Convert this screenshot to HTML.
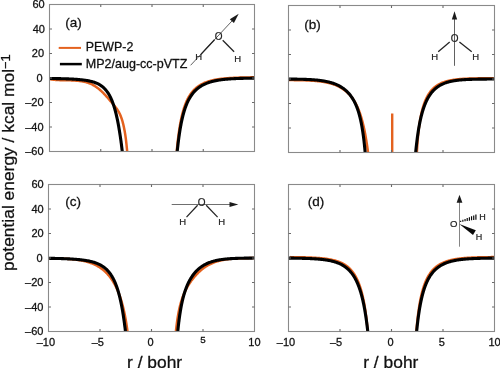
<!DOCTYPE html>
<html><head><meta charset="utf-8"><style>
html,body{margin:0;padding:0;background:#fff;}
svg{display:block;}
</style></head><body>
<svg width="500" height="368" viewBox="0 0 500 368" font-family="'Liberation Sans', Arial, Helvetica, sans-serif">
<style>.t{fill:#111;stroke:#111;stroke-width:0.28px}</style>
<rect width="500" height="368" fill="#fff"/>
<clipPath id="clipa"><rect x="49.5" y="4.5" width="205.0" height="147.0"/></clipPath>
<clipPath id="clipb"><rect x="288.5" y="5.5" width="206.0" height="147.0"/></clipPath>
<clipPath id="clipc"><rect x="48.5" y="184.5" width="206.0" height="147.0"/></clipPath>
<clipPath id="clipd"><rect x="288.5" y="184.5" width="206.0" height="147.0"/></clipPath>
<g clip-path="url(#clipa)" fill="none" stroke-linejoin="round">
<path d="M49.61 79.20 L50.17 79.30 L50.74 79.39 L51.32 79.47 L51.90 79.55 L52.48 79.62 L53.07 79.69 L53.66 79.75 L54.26 79.81 L54.86 79.86 L55.46 79.91 L56.07 79.95 L56.68 79.99 L57.29 80.02 L57.91 80.05 L58.53 80.08 L59.15 80.11 L59.78 80.13 L60.41 80.15 L61.04 80.17 L61.67 80.18 L62.31 80.20 L62.95 80.21 L63.59 80.22 L64.23 80.24 L64.87 80.25 L65.51 80.26 L66.15 80.27 L66.80 80.28 L67.45 80.29 L68.09 80.31 L68.74 80.32 L69.39 80.34 L70.03 80.35 L70.68 80.37 L71.33 80.40 L71.97 80.42 L72.62 80.45 L73.26 80.48 L73.91 80.51 L74.55 80.55 L75.19 80.59 L75.83 80.64 L76.47 80.69 L77.11 80.74 L77.75 80.80 L78.38 80.87 L79.01 80.94 L79.64 81.01 L80.27 81.10 L80.89 81.19 L81.51 81.28 L82.13 81.38 L82.74 81.49 L83.35 81.61 L83.96 81.74 L84.57 81.87 L85.17 82.01 L85.76 82.16 L86.36 82.32 L86.94 82.49 L87.53 82.67 L88.11 82.86 L88.68 83.05 L89.25 83.26 L89.81 83.48 L90.37 83.71 L90.93 83.95 L91.47 84.20 L92.02 84.46 L92.55 84.74 L93.08 85.02 L93.61 85.31 L94.13 85.62 L94.65 85.93 L95.16 86.26 L95.66 86.59 L96.16 86.93 L96.66 87.28 L97.15 87.64 L97.64 88.01 L98.12 88.38 L98.60 88.76 L99.08 89.15 L99.55 89.55 L100.02 89.95 L100.48 90.36 L100.94 90.78 L101.40 91.20 L101.85 91.62 L102.30 92.05 L102.74 92.49 L103.19 92.93 L103.63 93.38 L104.06 93.83 L104.50 94.28 L104.93 94.73 L105.35 95.19 L105.78 95.66 L106.20 96.12 L106.62 96.59 L107.04 97.06 L107.46 97.53 L107.87 98.00 L108.29 98.47 L108.70 98.95 L109.11 99.42 L109.51 99.90 L109.92 100.38 L110.32 100.85 L110.72 101.33 L111.12 101.81 L111.52 102.29 L111.92 102.77 L112.31 103.25 L112.71 103.73 L113.10 104.21 L113.49 104.70 L113.88 105.18 L114.27 105.66 L114.66 106.14 L115.04 106.62 L115.43 107.10 L115.80 107.59 L116.18 108.07 L116.55 108.56 L116.91 109.06 L117.26 109.56 L117.60 110.06 L117.93 110.57 L118.25 111.09 L118.56 111.61 L118.86 112.14 L119.15 112.68 L119.43 113.22 L119.70 113.77 L119.96 114.32 L120.21 114.88 L120.45 115.44 L120.69 116.00 L120.91 116.58 L121.13 117.15 L121.34 117.73 L121.54 118.31 L121.74 118.90 L121.93 119.49 L122.11 120.08 L122.29 120.68 L122.46 121.28 L122.63 121.88 L122.79 122.48 L122.94 123.08 L123.10 123.69 L123.24 124.30 L123.39 124.91 L123.53 125.52 L123.67 126.13 L123.80 126.74 L123.93 127.35 L124.06 127.96 L124.18 128.57 L124.30 129.19 L124.42 129.80 L124.54 130.42 L124.65 131.04 L124.76 131.65 L124.86 132.27 L124.97 132.89 L125.07 133.51 L125.17 134.12 L125.26 134.74 L125.36 135.36 L125.45 135.98 L125.54 136.60 L125.62 137.22 L125.71 137.84 L125.79 138.46 L125.87 139.08 L125.95 139.70 L126.03 140.32 L126.10 140.94 L126.17 141.56 L126.25 142.18 L126.32 142.80 L126.38 143.42 L126.45 144.04 L126.52 144.66 L126.58 145.28 L126.64 145.90 L126.70 146.52 L126.76 147.14 L126.82 147.76 L126.88 148.37 L126.94 148.99 L127.00 149.61 L127.05 150.22 L127.11 150.84 L127.16 151.45 L127.21 152.06 L127.27 152.68" stroke="#e4621f" stroke-width="2.5"/>
<path d="M254.80 77.32 L254.18 77.33 L253.57 77.33 L252.95 77.34 L252.34 77.35 L251.72 77.35 L251.11 77.36 L250.49 77.37 L249.88 77.38 L249.26 77.39 L248.65 77.40 L248.03 77.41 L247.42 77.42 L246.80 77.43 L246.19 77.44 L245.57 77.45 L244.96 77.46 L244.34 77.48 L243.73 77.49 L243.11 77.50 L242.50 77.52 L241.88 77.53 L241.27 77.55 L240.65 77.57 L240.04 77.59 L239.42 77.60 L238.80 77.62 L238.19 77.65 L237.57 77.67 L236.96 77.69 L236.34 77.71 L235.73 77.74 L235.11 77.76 L234.50 77.79 L233.88 77.82 L233.27 77.85 L232.65 77.88 L232.04 77.92 L231.42 77.95 L230.81 77.99 L230.19 78.02 L229.58 78.06 L228.96 78.10 L228.35 78.15 L227.73 78.19 L227.12 78.24 L226.50 78.29 L225.89 78.34 L225.27 78.40 L224.65 78.46 L224.04 78.52 L223.42 78.58 L222.81 78.64 L222.19 78.71 L221.58 78.78 L220.96 78.86 L220.35 78.94 L219.73 79.02 L219.12 79.11 L218.50 79.20 L217.89 79.29 L217.27 79.39 L216.66 79.49 L216.04 79.60 L215.43 79.71 L214.81 79.83 L214.20 79.95 L213.58 80.08 L212.97 80.22 L212.35 80.36 L211.77 80.50 L211.18 80.65 L210.60 80.80 L210.01 80.96 L209.43 81.13 L208.84 81.31 L208.26 81.49 L207.68 81.68 L207.09 81.88 L206.51 82.09 L205.92 82.31 L205.34 82.53 L204.75 82.77 L204.20 83.01 L203.65 83.25 L203.09 83.51 L202.54 83.78 L201.98 84.06 L201.43 84.35 L200.88 84.66 L200.35 84.96 L199.83 85.28 L199.31 85.61 L198.79 85.95 L198.26 86.31 L197.77 86.66 L197.28 87.03 L196.79 87.41 L196.29 87.82 L195.83 88.21 L195.37 88.62 L194.91 89.05 L194.45 89.50 L194.02 89.93 L193.59 90.38 L193.16 90.85 L192.76 91.31 L192.36 91.78 L191.96 92.27 L191.56 92.78 L191.19 93.26 L190.82 93.77 L190.45 94.30 L190.11 94.80 L189.77 95.32 L189.43 95.85 L189.10 96.41 L188.79 96.93 L188.48 97.48 L188.17 98.04 L187.87 98.62 L187.59 99.16 L187.31 99.72 L187.04 100.29 L186.76 100.89 L186.48 101.51 L186.24 102.07 L185.99 102.65 L185.74 103.25 L185.50 103.87 L185.25 104.51 L185.04 105.09 L184.82 105.68 L184.61 106.29 L184.39 106.92 L184.17 107.56 L183.96 108.23 L183.77 108.81 L183.59 109.42 L183.41 110.03 L183.22 110.67 L183.04 111.32 L182.85 111.98 L182.67 112.67 L182.51 113.26 L182.36 113.86 L182.21 114.47 L182.05 115.10 L181.90 115.74 L181.74 116.40 L181.59 117.08 L181.44 117.77 L181.28 118.48 L181.13 119.21 L181.01 119.80 L180.88 120.41 L180.76 121.03 L180.64 121.66 L180.51 122.31 L180.39 122.96 L180.27 123.64 L180.14 124.32 L180.02 125.03 L179.90 125.74 L179.78 126.48 L179.65 127.23 L179.53 127.99 L179.41 128.77 L179.31 129.37 L179.22 129.98 L179.13 130.60 L179.04 131.23 L178.95 131.87 L178.85 132.52 L178.76 133.19 L178.67 133.86 L178.58 134.55 L178.48 135.25 L178.39 135.96 L178.30 136.68 L178.21 137.42 L178.11 138.17 L178.02 138.94 L177.93 139.72 L177.84 140.51 L177.75 141.32 L177.65 142.15 L177.56 142.99 L177.47 143.84 L177.38 144.72 L177.28 145.61 L177.22 146.21 L177.16 146.82 L177.10 147.44 L177.04 148.07 L176.98 148.70 L176.92 149.34 L176.85 150.00 L176.79 150.66 L176.73 151.33 L176.67 152.00 L176.61 152.68 L176.58 153.02" stroke="#e4621f" stroke-width="2.5"/>
<path d="M49.50 78.48 L50.12 78.48 L50.73 78.49 L51.35 78.50 L51.96 78.51 L52.58 78.52 L53.19 78.53 L53.81 78.54 L54.42 78.55 L55.04 78.56 L55.65 78.57 L56.27 78.58 L56.88 78.59 L57.50 78.60 L58.11 78.62 L58.73 78.63 L59.34 78.64 L59.96 78.66 L60.57 78.67 L61.19 78.69 L61.80 78.70 L62.42 78.72 L63.03 78.73 L63.65 78.75 L64.26 78.77 L64.88 78.79 L65.50 78.81 L66.11 78.83 L66.73 78.85 L67.34 78.87 L67.96 78.90 L68.57 78.92 L69.19 78.95 L69.80 78.97 L70.42 79.00 L71.03 79.03 L71.65 79.06 L72.26 79.09 L72.88 79.13 L73.49 79.16 L74.11 79.20 L74.72 79.23 L75.34 79.27 L75.95 79.31 L76.57 79.36 L77.18 79.40 L77.80 79.45 L78.41 79.50 L79.03 79.55 L79.65 79.61 L80.26 79.67 L80.88 79.73 L81.49 79.79 L82.11 79.86 L82.72 79.93 L83.34 80.00 L83.95 80.08 L84.57 80.17 L85.18 80.25 L85.80 80.34 L86.41 80.44 L87.03 80.54 L87.64 80.65 L88.26 80.77 L88.87 80.89 L89.49 81.02 L90.10 81.15 L90.69 81.29 L91.27 81.43 L91.86 81.59 L92.44 81.75 L93.03 81.92 L93.61 82.10 L94.19 82.29 L94.78 82.49 L95.36 82.71 L95.95 82.93 L96.53 83.18 L97.09 83.42 L97.64 83.68 L98.19 83.95 L98.75 84.24 L99.30 84.54 L99.82 84.85 L100.35 85.18 L100.87 85.52 L101.39 85.88 L101.88 86.24 L102.38 86.63 L102.87 87.03 L103.33 87.43 L103.79 87.85 L104.25 88.29 L104.68 88.73 L105.11 89.19 L105.55 89.67 L105.95 90.14 L106.34 90.63 L106.71 91.10 L107.08 91.59 L107.45 92.11 L107.82 92.65 L108.16 93.17 L108.50 93.70 L108.84 94.26 L109.14 94.79 L109.45 95.34 L109.76 95.91 L110.07 96.50 L110.34 97.05 L110.62 97.62 L110.90 98.21 L111.17 98.82 L111.42 99.38 L111.67 99.96 L111.91 100.55 L112.16 101.16 L112.40 101.79 L112.62 102.36 L112.84 102.94 L113.05 103.54 L113.27 104.16 L113.48 104.79 L113.70 105.44 L113.91 106.10 L114.10 106.69 L114.28 107.29 L114.47 107.90 L114.65 108.53 L114.83 109.17 L115.02 109.82 L115.20 110.49 L115.39 111.18 L115.54 111.76 L115.70 112.36 L115.85 112.96 L116.00 113.58 L116.16 114.21 L116.31 114.85 L116.47 115.51 L116.62 116.17 L116.77 116.85 L116.93 117.54 L117.08 118.25 L117.23 118.97 L117.39 119.70 L117.51 120.29 L117.63 120.90 L117.76 121.51 L117.88 122.13 L118.00 122.77 L118.13 123.41 L118.25 124.06 L118.37 124.72 L118.50 125.39 L118.62 126.07 L118.74 126.76 L118.86 127.46 L118.99 128.18 L119.11 128.90 L119.23 129.63 L119.36 130.37 L119.48 131.13 L119.60 131.89 L119.73 132.67 L119.85 133.46 L119.94 134.06 L120.03 134.66 L120.13 135.27 L120.22 135.89 L120.31 136.51 L120.40 137.15 L120.49 137.78 L120.59 138.43 L120.68 139.08 L120.77 139.74 L120.86 140.40 L120.96 141.08 L121.05 141.76 L121.14 142.44 L121.23 143.14 L121.33 143.84 L121.42 144.55 L121.51 145.26 L121.60 145.98 L121.69 146.71 L121.79 147.45 L121.88 148.20 L121.97 148.95 L122.06 149.71 L122.16 150.48 L122.25 151.25 L122.34 152.04 L122.43 152.83 L122.46 153.09" stroke="#000" stroke-width="3.1"/>
<path d="M256.00 78.12 L255.38 78.13 L254.77 78.13 L254.15 78.14 L253.54 78.15 L252.92 78.15 L252.31 78.16 L251.69 78.17 L251.08 78.18 L250.46 78.19 L249.85 78.20 L249.23 78.21 L248.62 78.22 L248.00 78.23 L247.39 78.24 L246.77 78.25 L246.16 78.26 L245.54 78.28 L244.93 78.29 L244.31 78.30 L243.70 78.32 L243.08 78.33 L242.47 78.35 L241.85 78.37 L241.24 78.39 L240.62 78.40 L240.00 78.42 L239.39 78.45 L238.77 78.47 L238.16 78.49 L237.54 78.51 L236.93 78.54 L236.31 78.56 L235.70 78.59 L235.08 78.62 L234.47 78.65 L233.85 78.68 L233.24 78.72 L232.62 78.75 L232.01 78.79 L231.39 78.82 L230.78 78.86 L230.16 78.90 L229.55 78.95 L228.93 78.99 L228.32 79.04 L227.70 79.09 L227.09 79.14 L226.47 79.20 L225.85 79.26 L225.24 79.32 L224.62 79.38 L224.01 79.44 L223.39 79.51 L222.78 79.58 L222.16 79.66 L221.55 79.74 L220.93 79.82 L220.32 79.91 L219.70 80.00 L219.09 80.09 L218.47 80.19 L217.86 80.29 L217.24 80.40 L216.63 80.51 L216.01 80.63 L215.40 80.75 L214.78 80.88 L214.17 81.02 L213.55 81.16 L212.97 81.30 L212.38 81.45 L211.80 81.60 L211.21 81.76 L210.63 81.93 L210.04 82.11 L209.46 82.29 L208.88 82.48 L208.29 82.68 L207.71 82.89 L207.12 83.11 L206.54 83.33 L205.95 83.57 L205.40 83.81 L204.85 84.05 L204.29 84.31 L203.74 84.58 L203.18 84.86 L202.63 85.15 L202.08 85.46 L201.55 85.76 L201.03 86.08 L200.51 86.41 L199.99 86.75 L199.46 87.11 L198.97 87.46 L198.48 87.83 L197.98 88.21 L197.49 88.61 L197.02 89.00 L196.55 89.40 L196.09 89.83 L195.62 90.27 L195.19 90.69 L194.75 91.14 L194.31 91.60 L193.91 92.05 L193.50 92.52 L193.10 93.00 L192.69 93.50 L192.32 93.99 L191.95 94.49 L191.57 95.01 L191.23 95.50 L190.88 96.01 L190.54 96.54 L190.19 97.09 L189.88 97.61 L189.57 98.15 L189.25 98.70 L188.94 99.28 L188.66 99.81 L188.37 100.36 L188.09 100.93 L187.81 101.52 L187.52 102.13 L187.27 102.68 L187.02 103.26 L186.77 103.85 L186.51 104.46 L186.26 105.09 L186.04 105.66 L185.82 106.25 L185.60 106.85 L185.37 107.47 L185.15 108.11 L184.93 108.76 L184.74 109.34 L184.55 109.94 L184.36 110.55 L184.16 111.17 L183.97 111.81 L183.78 112.47 L183.59 113.15 L183.43 113.73 L183.27 114.32 L183.11 114.93 L182.95 115.55 L182.79 116.19 L182.63 116.84 L182.46 117.51 L182.30 118.19 L182.14 118.89 L181.98 119.61 L181.85 120.20 L181.72 120.79 L181.59 121.41 L181.46 122.03 L181.33 122.67 L181.20 123.32 L181.07 123.98 L180.94 124.66 L180.81 125.36 L180.68 126.06 L180.55 126.79 L180.42 127.53 L180.28 128.28 L180.15 129.06 L180.02 129.85 L179.92 130.45 L179.82 131.07 L179.72 131.69 L179.63 132.33 L179.53 132.98 L179.43 133.63 L179.33 134.31 L179.23 134.99 L179.13 135.68 L179.03 136.39 L178.93 137.11 L178.83 137.84 L178.73 138.59 L178.63 139.35 L178.52 140.13 L178.42 140.91 L178.32 141.72 L178.22 142.54 L178.12 143.37 L178.02 144.22 L177.92 145.09 L177.81 145.98 L177.75 146.58 L177.68 147.18 L177.61 147.80 L177.54 148.42 L177.47 149.05 L177.40 149.69 L177.34 150.34 L177.27 151.00 L177.20 151.66 L177.14 152.34 L177.08 153.02 L177.08 153.02" stroke="#000" stroke-width="3.1"/>
</g>
<g clip-path="url(#clipb)" fill="none" stroke-linejoin="round">
<path d="M287.90 80.07 L288.52 80.07 L289.14 80.08 L289.75 80.08 L290.37 80.09 L290.99 80.09 L291.61 80.10 L292.23 80.11 L292.85 80.11 L293.46 80.12 L294.08 80.13 L294.70 80.14 L295.32 80.14 L295.94 80.15 L296.55 80.16 L297.17 80.17 L297.79 80.18 L298.41 80.19 L299.03 80.21 L299.65 80.22 L300.26 80.23 L300.88 80.25 L301.50 80.26 L302.12 80.28 L302.74 80.29 L303.36 80.31 L303.97 80.33 L304.59 80.35 L305.21 80.37 L305.83 80.39 L306.45 80.42 L307.06 80.44 L307.68 80.47 L308.30 80.49 L308.92 80.52 L309.54 80.55 L310.16 80.59 L310.77 80.62 L311.39 80.66 L312.01 80.70 L312.63 80.74 L313.25 80.78 L313.86 80.82 L314.48 80.87 L315.10 80.92 L315.72 80.97 L316.34 81.03 L316.96 81.08 L317.57 81.14 L318.19 81.21 L318.81 81.27 L319.43 81.35 L320.05 81.42 L320.66 81.50 L321.28 81.58 L321.90 81.67 L322.52 81.76 L323.14 81.85 L323.76 81.95 L324.37 82.06 L324.99 82.17 L325.61 82.28 L326.23 82.40 L326.85 82.53 L327.43 82.66 L328.02 82.79 L328.61 82.93 L329.20 83.07 L329.78 83.22 L330.37 83.38 L330.96 83.54 L331.55 83.72 L332.13 83.90 L332.72 84.08 L333.31 84.28 L333.89 84.48 L334.48 84.70 L335.07 84.92 L335.66 85.15 L336.21 85.39 L336.77 85.63 L337.33 85.87 L337.88 86.14 L338.44 86.41 L338.99 86.69 L339.55 86.98 L340.11 87.29 L340.63 87.59 L341.16 87.90 L341.68 88.23 L342.21 88.56 L342.73 88.92 L343.23 89.26 L343.72 89.62 L344.23 89.98 L344.73 90.36 L345.21 90.73 L345.69 91.11 L346.17 91.51 L346.65 91.92 L347.13 92.34 L347.58 92.75 L348.03 93.18 L348.48 93.62 L348.93 94.08 L349.34 94.52 L349.76 94.98 L350.18 95.45 L350.60 95.94 L350.99 96.41 L351.38 96.89 L351.77 97.39 L352.16 97.91 L352.52 98.40 L352.88 98.91 L353.24 99.43 L353.60 99.97 L353.93 100.48 L354.26 101.01 L354.59 101.55 L354.92 102.11 L355.25 102.69 L355.55 103.23 L355.85 103.78 L356.15 104.35 L356.45 104.94 L356.72 105.48 L356.99 106.04 L357.26 106.61 L357.53 107.20 L357.80 107.81 L358.07 108.44 L358.31 109.01 L358.55 109.59 L358.78 110.19 L359.02 110.80 L359.27 111.44 L359.51 112.09 L359.71 112.66 L359.92 113.25 L360.13 113.86 L360.34 114.48 L360.55 115.12 L360.76 115.77 L360.97 116.45 L361.15 117.02 L361.33 117.61 L361.50 118.22 L361.68 118.83 L361.86 119.47 L362.04 120.12 L362.22 120.78 L362.40 121.46 L362.58 122.16 L362.76 122.88 L362.91 123.47 L363.06 124.07 L363.20 124.68 L363.35 125.30 L363.50 125.94 L363.65 126.60 L363.80 127.26 L363.95 127.95 L364.10 128.64 L364.25 129.36 L364.40 130.09 L364.55 130.83 L364.70 131.60 L364.86 132.38 L364.97 132.98 L365.09 133.59 L365.21 134.21 L365.32 134.84 L365.44 135.48 L365.56 136.14 L365.68 136.80 L365.80 137.48 L365.91 138.17 L366.03 138.88 L366.15 139.60 L366.28 140.33 L366.40 141.08 L366.52 141.84 L366.64 142.62 L366.76 143.41 L366.89 144.21 L367.01 145.04 L367.14 145.88 L367.26 146.74 L367.39 147.61 L367.52 148.50 L367.60 149.11 L367.69 149.72 L367.77 150.35 L367.86 150.98 L367.94 151.62 L368.03 152.27 L368.10 152.94 L368.16 153.61 L368.22 154.30 L368.22 154.30" stroke="#e4621f" stroke-width="2.5"/>
<path d="M493.70 78.23 L493.08 78.23 L492.46 78.24 L491.85 78.24 L491.23 78.24 L490.61 78.24 L489.99 78.25 L489.37 78.25 L488.75 78.25 L488.14 78.26 L487.52 78.26 L486.90 78.26 L486.28 78.27 L485.66 78.27 L485.05 78.28 L484.43 78.28 L483.81 78.29 L483.19 78.29 L482.57 78.30 L481.95 78.30 L481.34 78.31 L480.72 78.32 L480.10 78.33 L479.48 78.33 L478.86 78.34 L478.24 78.35 L477.63 78.36 L477.01 78.37 L476.39 78.38 L475.77 78.39 L475.15 78.40 L474.54 78.42 L473.92 78.43 L473.30 78.44 L472.68 78.46 L472.06 78.48 L471.44 78.49 L470.83 78.51 L470.21 78.53 L469.59 78.55 L468.97 78.57 L468.35 78.60 L467.74 78.62 L467.12 78.65 L466.50 78.67 L465.88 78.70 L465.26 78.73 L464.64 78.76 L464.03 78.80 L463.41 78.84 L462.79 78.87 L462.17 78.92 L461.55 78.96 L460.94 79.00 L460.32 79.05 L459.70 79.10 L459.08 79.16 L458.46 79.22 L457.84 79.28 L457.23 79.34 L456.61 79.41 L455.99 79.48 L455.37 79.56 L454.75 79.64 L454.13 79.73 L453.52 79.82 L452.90 79.91 L452.28 80.01 L451.66 80.12 L451.04 80.23 L450.43 80.35 L449.81 80.48 L449.22 80.60 L448.63 80.74 L448.05 80.88 L447.46 81.03 L446.87 81.18 L446.28 81.35 L445.70 81.52 L445.11 81.70 L444.52 81.89 L443.93 82.10 L443.35 82.31 L442.76 82.53 L442.17 82.77 L441.62 83.01 L441.06 83.25 L440.50 83.51 L439.95 83.79 L439.39 84.07 L438.83 84.38 L438.31 84.67 L437.78 84.99 L437.26 85.32 L436.73 85.66 L436.21 86.02 L435.71 86.38 L435.22 86.75 L434.72 87.14 L434.23 87.54 L433.76 87.94 L433.32 88.36 L432.87 88.80 L432.43 89.26 L432.01 89.71 L431.60 90.17 L431.19 90.65 L430.80 91.12 L430.42 91.61 L430.04 92.11 L429.66 92.64 L429.31 93.14 L428.96 93.67 L428.62 94.21 L428.30 94.72 L427.98 95.26 L427.66 95.81 L427.35 96.38 L427.06 96.92 L426.77 97.47 L426.49 98.05 L426.20 98.64 L425.95 99.19 L425.70 99.76 L425.44 100.35 L425.19 100.95 L424.94 101.57 L424.71 102.15 L424.49 102.73 L424.27 103.34 L424.05 103.96 L423.83 104.60 L423.63 105.18 L423.44 105.77 L423.25 106.38 L423.06 107.00 L422.87 107.64 L422.68 108.30 L422.52 108.88 L422.36 109.47 L422.20 110.08 L422.04 110.70 L421.88 111.34 L421.73 111.99 L421.57 112.66 L421.41 113.35 L421.25 114.05 L421.13 114.65 L421.00 115.27 L420.87 115.89 L420.74 116.53 L420.61 117.19 L420.49 117.86 L420.36 118.54 L420.24 119.25 L420.11 119.96 L419.99 120.70 L419.89 121.30 L419.79 121.91 L419.69 122.53 L419.60 123.17 L419.50 123.81 L419.40 124.47 L419.31 125.15 L419.21 125.83 L419.12 126.53 L419.03 127.25 L418.93 127.97 L418.84 128.72 L418.75 129.48 L418.66 130.25 L418.57 131.04 L418.50 131.65 L418.43 132.26 L418.36 132.89 L418.30 133.52 L418.23 134.16 L418.17 134.82 L418.10 135.49 L418.04 136.16 L417.97 136.85 L417.91 137.55 L417.85 138.26 L417.79 138.99 L417.72 139.72 L417.66 140.47 L417.60 141.23 L417.54 142.01 L417.48 142.80 L417.42 143.60 L417.36 144.42 L417.31 145.25 L417.25 146.10 L417.19 146.96 L417.14 147.84 L417.08 148.74 L417.04 149.35 L417.01 149.96 L416.97 150.58 L416.94 151.21 L416.90 151.85 L416.87 152.49 L416.81 153.14 L416.74 153.79 L416.71 154.12" stroke="#e4621f" stroke-width="2.5"/>
<line x1="392.2" y1="113.5" x2="392.2" y2="153" stroke="#e4621f" stroke-width="2.4"/>
<path d="M287.70 79.07 L288.32 79.07 L288.94 79.08 L289.55 79.08 L290.17 79.09 L290.79 79.09 L291.41 79.10 L292.03 79.11 L292.65 79.11 L293.26 79.12 L293.88 79.13 L294.50 79.14 L295.12 79.14 L295.74 79.15 L296.35 79.16 L296.97 79.17 L297.59 79.18 L298.21 79.19 L298.83 79.21 L299.45 79.22 L300.06 79.23 L300.68 79.25 L301.30 79.26 L301.92 79.28 L302.54 79.29 L303.16 79.31 L303.77 79.33 L304.39 79.35 L305.01 79.37 L305.63 79.39 L306.25 79.42 L306.86 79.44 L307.48 79.47 L308.10 79.49 L308.72 79.52 L309.34 79.55 L309.96 79.59 L310.57 79.62 L311.19 79.66 L311.81 79.70 L312.43 79.74 L313.05 79.78 L313.66 79.82 L314.28 79.87 L314.90 79.92 L315.52 79.97 L316.14 80.03 L316.76 80.08 L317.37 80.14 L317.99 80.21 L318.61 80.27 L319.23 80.35 L319.85 80.42 L320.46 80.50 L321.08 80.58 L321.70 80.67 L322.32 80.76 L322.94 80.85 L323.56 80.95 L324.17 81.06 L324.79 81.17 L325.41 81.28 L326.03 81.40 L326.65 81.53 L327.23 81.66 L327.82 81.79 L328.41 81.93 L329.00 82.07 L329.58 82.22 L330.17 82.38 L330.76 82.54 L331.35 82.72 L331.93 82.90 L332.52 83.08 L333.11 83.28 L333.69 83.48 L334.28 83.70 L334.87 83.92 L335.46 84.15 L336.01 84.39 L336.57 84.63 L337.13 84.87 L337.68 85.14 L338.24 85.41 L338.79 85.69 L339.35 85.98 L339.91 86.29 L340.43 86.59 L340.96 86.90 L341.48 87.23 L342.01 87.56 L342.53 87.92 L343.03 88.26 L343.52 88.62 L344.02 88.99 L344.51 89.37 L345.00 89.77 L345.46 90.16 L345.93 90.56 L346.39 90.98 L346.85 91.41 L347.28 91.83 L347.71 92.27 L348.14 92.72 L348.57 93.18 L348.97 93.63 L349.37 94.10 L349.77 94.58 L350.17 95.08 L350.54 95.55 L350.91 96.05 L351.28 96.56 L351.65 97.08 L351.98 97.58 L352.32 98.10 L352.66 98.63 L353.00 99.19 L353.30 99.70 L353.61 100.24 L353.92 100.79 L354.22 101.36 L354.53 101.95 L354.80 102.50 L355.08 103.07 L355.35 103.65 L355.63 104.25 L355.87 104.80 L356.12 105.37 L356.36 105.96 L356.61 106.56 L356.85 107.18 L357.10 107.82 L357.31 108.40 L357.52 108.99 L357.74 109.60 L357.95 110.23 L358.16 110.87 L358.38 111.54 L358.56 112.13 L358.74 112.73 L358.93 113.35 L359.11 113.98 L359.29 114.63 L359.47 115.30 L359.65 115.99 L359.81 116.57 L359.96 117.18 L360.11 117.79 L360.26 118.42 L360.41 119.07 L360.56 119.73 L360.72 120.41 L360.87 121.11 L361.02 121.82 L361.17 122.55 L361.29 123.15 L361.41 123.77 L361.53 124.39 L361.65 125.03 L361.77 125.68 L361.89 126.35 L362.01 127.03 L362.13 127.73 L362.25 128.44 L362.37 129.17 L362.49 129.92 L362.61 130.68 L362.73 131.46 L362.82 132.06 L362.91 132.67 L363.00 133.28 L363.09 133.91 L363.18 134.56 L363.27 135.21 L363.36 135.87 L363.45 136.55 L363.54 137.24 L363.63 137.95 L363.72 138.66 L363.81 139.39 L363.90 140.14 L363.99 140.90 L364.08 141.67 L364.17 142.46 L364.26 143.26 L364.34 144.08 L364.43 144.92 L364.52 145.77 L364.61 146.64 L364.70 147.53 L364.76 148.14 L364.82 148.75 L364.88 149.37 L364.93 150.00 L364.99 150.63 L365.05 151.28 L365.11 151.93 L365.17 152.60 L365.23 153.27 L365.29 153.96 L365.32 154.30" stroke="#000" stroke-width="3.1"/>
<path d="M495.20 79.03 L494.58 79.03 L493.96 79.04 L493.35 79.04 L492.73 79.04 L492.11 79.04 L491.49 79.05 L490.87 79.05 L490.25 79.05 L489.64 79.06 L489.02 79.06 L488.40 79.06 L487.78 79.07 L487.16 79.07 L486.55 79.08 L485.93 79.08 L485.31 79.09 L484.69 79.09 L484.07 79.10 L483.45 79.10 L482.84 79.11 L482.22 79.12 L481.60 79.13 L480.98 79.13 L480.36 79.14 L479.74 79.15 L479.13 79.16 L478.51 79.17 L477.89 79.18 L477.27 79.19 L476.65 79.20 L476.04 79.22 L475.42 79.23 L474.80 79.24 L474.18 79.26 L473.56 79.28 L472.94 79.29 L472.33 79.31 L471.71 79.33 L471.09 79.35 L470.47 79.37 L469.85 79.40 L469.24 79.42 L468.62 79.45 L468.00 79.47 L467.38 79.50 L466.76 79.53 L466.14 79.56 L465.53 79.60 L464.91 79.64 L464.29 79.67 L463.67 79.72 L463.05 79.76 L462.44 79.80 L461.82 79.85 L461.20 79.90 L460.58 79.96 L459.96 80.02 L459.34 80.08 L458.73 80.14 L458.11 80.21 L457.49 80.28 L456.87 80.36 L456.25 80.44 L455.63 80.53 L455.02 80.62 L454.40 80.71 L453.78 80.81 L453.16 80.92 L452.54 81.03 L451.93 81.15 L451.31 81.28 L450.72 81.40 L450.13 81.54 L449.55 81.68 L448.96 81.83 L448.37 81.98 L447.78 82.15 L447.20 82.32 L446.61 82.50 L446.02 82.69 L445.43 82.90 L444.85 83.11 L444.26 83.33 L443.67 83.57 L443.12 83.81 L442.56 84.05 L442.00 84.31 L441.45 84.59 L440.89 84.87 L440.33 85.18 L439.81 85.47 L439.28 85.79 L438.76 86.12 L438.23 86.46 L437.71 86.82 L437.21 87.18 L436.72 87.55 L436.22 87.94 L435.73 88.34 L435.26 88.74 L434.80 89.16 L434.34 89.59 L433.90 90.01 L433.47 90.45 L433.04 90.91 L432.61 91.39 L432.20 91.85 L431.80 92.33 L431.40 92.82 L431.03 93.30 L430.66 93.79 L430.29 94.31 L429.92 94.84 L429.58 95.35 L429.24 95.87 L428.90 96.41 L428.56 96.97 L428.25 97.50 L427.94 98.05 L427.63 98.61 L427.32 99.19 L427.04 99.73 L426.76 100.29 L426.49 100.86 L426.21 101.46 L425.93 102.07 L425.68 102.63 L425.44 103.20 L425.19 103.80 L424.94 104.41 L424.69 105.04 L424.48 105.60 L424.26 106.18 L424.04 106.78 L423.83 107.39 L423.61 108.02 L423.40 108.66 L423.18 109.32 L422.99 109.91 L422.81 110.50 L422.62 111.12 L422.44 111.74 L422.25 112.38 L422.07 113.04 L421.88 113.72 L421.70 114.41 L421.54 115.00 L421.39 115.60 L421.23 116.22 L421.08 116.85 L420.92 117.50 L420.77 118.16 L420.61 118.83 L420.46 119.52 L420.30 120.22 L420.15 120.95 L420.03 121.53 L419.90 122.14 L419.78 122.75 L419.66 123.37 L419.53 124.01 L419.41 124.66 L419.28 125.32 L419.16 125.99 L419.04 126.68 L418.91 127.38 L418.79 128.10 L418.67 128.83 L418.54 129.57 L418.42 130.33 L418.30 131.11 L418.20 131.71 L418.11 132.31 L418.02 132.92 L417.92 133.55 L417.83 134.18 L417.74 134.82 L417.65 135.48 L417.55 136.14 L417.46 136.82 L417.37 137.50 L417.28 138.20 L417.18 138.91 L417.09 139.64 L417.00 140.37 L416.90 141.12 L416.81 141.88 L416.72 142.66 L416.63 143.45 L416.53 144.25 L416.44 145.07 L416.35 145.90 L416.26 146.75 L416.16 147.61 L416.07 148.49 L415.98 149.38 L415.92 149.99 L415.85 150.60 L415.79 151.23 L415.73 151.86 L415.67 152.49 L415.61 153.14 L415.54 153.79 L415.51 154.12" stroke="#000" stroke-width="3.1"/>
</g>
<g clip-path="url(#clipc)" fill="none" stroke-linejoin="round">
<path d="M48.50 258.20 L49.12 258.21 L49.74 258.22 L50.35 258.23 L50.97 258.25 L51.59 258.26 L52.21 258.27 L52.83 258.28 L53.45 258.30 L54.06 258.31 L54.68 258.33 L55.30 258.35 L55.92 258.36 L56.54 258.38 L57.15 258.40 L57.77 258.42 L58.39 258.44 L59.01 258.46 L59.63 258.48 L60.25 258.51 L60.86 258.53 L61.48 258.56 L62.10 258.59 L62.72 258.61 L63.34 258.64 L63.96 258.68 L64.57 258.71 L65.19 258.74 L65.81 258.78 L66.43 258.82 L67.05 258.86 L67.66 258.90 L68.28 258.94 L68.90 258.99 L69.52 259.03 L70.14 259.08 L70.76 259.14 L71.37 259.19 L71.99 259.25 L72.61 259.31 L73.23 259.37 L73.85 259.44 L74.46 259.51 L75.08 259.58 L75.70 259.65 L76.32 259.73 L76.94 259.81 L77.56 259.90 L78.17 259.99 L78.79 260.08 L79.41 260.18 L80.03 260.28 L80.65 260.39 L81.26 260.50 L81.88 260.62 L82.50 260.74 L83.12 260.87 L83.71 260.99 L84.29 261.13 L84.88 261.26 L85.47 261.41 L86.06 261.55 L86.64 261.71 L87.23 261.87 L87.82 262.04 L88.41 262.21 L88.99 262.40 L89.58 262.59 L90.17 262.78 L90.75 262.99 L91.34 263.20 L91.93 263.43 L92.52 263.66 L93.07 263.89 L93.63 264.13 L94.19 264.37 L94.74 264.63 L95.30 264.89 L95.85 265.17 L96.41 265.45 L96.97 265.75 L97.49 266.04 L98.02 266.34 L98.54 266.65 L99.07 266.98 L99.59 267.31 L100.12 267.66 L100.65 268.02 L101.14 268.36 L101.63 268.73 L102.13 269.10 L102.62 269.48 L103.12 269.88 L103.58 270.27 L104.05 270.66 L104.51 271.07 L104.97 271.50 L105.44 271.93 L105.87 272.35 L106.30 272.78 L106.74 273.23 L107.17 273.68 L107.60 274.15 L108.00 274.60 L108.40 275.07 L108.81 275.54 L109.21 276.03 L109.61 276.54 L109.98 277.01 L110.35 277.50 L110.72 278.00 L111.09 278.52 L111.46 279.05 L111.80 279.55 L112.14 280.06 L112.48 280.58 L112.82 281.12 L113.16 281.67 L113.50 282.23 L113.81 282.76 L114.12 283.30 L114.43 283.85 L114.74 284.41 L115.05 284.99 L115.33 285.53 L115.61 286.07 L115.88 286.63 L116.16 287.20 L116.44 287.78 L116.72 288.38 L117.00 288.99 L117.24 289.54 L117.49 290.11 L117.74 290.69 L117.99 291.28 L118.23 291.89 L118.48 292.50 L118.73 293.14 L118.94 293.70 L119.16 294.28 L119.38 294.87 L119.59 295.47 L119.81 296.08 L120.03 296.71 L120.24 297.35 L120.46 298.00 L120.64 298.57 L120.83 299.15 L121.02 299.74 L121.20 300.35 L121.39 300.97 L121.57 301.59 L121.76 302.23 L121.94 302.89 L122.13 303.56 L122.31 304.24 L122.50 304.93 L122.65 305.52 L122.81 306.12 L122.96 306.73 L123.12 307.36 L123.27 307.99 L123.43 308.64 L123.58 309.30 L123.74 309.97 L123.89 310.65 L124.04 311.35 L124.20 312.06 L124.35 312.78 L124.48 313.37 L124.60 313.97 L124.72 314.58 L124.85 315.20 L124.97 315.83 L125.10 316.47 L125.22 317.12 L125.34 317.78 L125.47 318.45 L125.59 319.13 L125.71 319.83 L125.84 320.54 L125.96 321.26 L126.08 321.99 L126.21 322.74 L126.33 323.50 L126.46 324.28 L126.58 325.07 L126.67 325.67 L126.76 326.28 L126.86 326.90 L126.95 327.53 L127.04 328.17 L127.14 328.81 L127.23 329.47 L127.32 330.13 L127.41 330.81 L127.51 331.50 L127.60 332.19 L127.69 332.90 L127.72 333.14" stroke="#e4621f" stroke-width="2.5"/>
<path d="M255.30 258.06 L254.68 258.06 L254.06 258.07 L253.45 258.07 L252.83 258.08 L252.21 258.08 L251.59 258.09 L250.97 258.10 L250.35 258.10 L249.74 258.11 L249.12 258.12 L248.50 258.13 L247.88 258.14 L247.26 258.15 L246.65 258.16 L246.03 258.17 L245.41 258.18 L244.79 258.20 L244.17 258.21 L243.55 258.23 L242.94 258.24 L242.32 258.26 L241.70 258.28 L241.08 258.30 L240.46 258.32 L239.84 258.34 L239.23 258.37 L238.61 258.39 L237.99 258.42 L237.37 258.45 L236.75 258.48 L236.14 258.51 L235.52 258.55 L234.90 258.59 L234.28 258.63 L233.66 258.67 L233.04 258.71 L232.43 258.76 L231.81 258.81 L231.19 258.87 L230.57 258.92 L229.95 258.98 L229.34 259.05 L228.72 259.12 L228.10 259.19 L227.48 259.27 L226.86 259.35 L226.24 259.43 L225.63 259.52 L225.01 259.62 L224.39 259.72 L223.77 259.82 L223.15 259.94 L222.54 260.05 L221.92 260.18 L221.33 260.30 L220.74 260.43 L220.15 260.57 L219.57 260.71 L218.98 260.86 L218.39 261.02 L217.81 261.18 L217.22 261.36 L216.63 261.54 L216.04 261.73 L215.46 261.92 L214.87 262.13 L214.28 262.34 L213.69 262.57 L213.11 262.80 L212.55 263.03 L211.99 263.27 L211.44 263.52 L210.88 263.78 L210.33 264.05 L209.77 264.32 L209.21 264.61 L208.66 264.91 L208.13 265.20 L207.61 265.50 L207.08 265.81 L206.55 266.14 L206.03 266.47 L205.50 266.81 L204.98 267.16 L204.48 267.50 L203.99 267.85 L203.50 268.21 L203.01 268.58 L202.51 268.96 L202.02 269.36 L201.53 269.76 L201.07 270.14 L200.61 270.54 L200.15 270.94 L199.69 271.35 L199.23 271.78 L198.77 272.21 L198.31 272.65 L197.88 273.07 L197.45 273.51 L197.02 273.95 L196.59 274.40 L196.16 274.86 L195.73 275.32 L195.30 275.80 L194.91 276.25 L194.51 276.72 L194.11 277.19 L193.71 277.67 L193.31 278.16 L192.92 278.66 L192.52 279.17 L192.15 279.65 L191.78 280.14 L191.42 280.63 L191.05 281.14 L190.68 281.66 L190.32 282.19 L189.95 282.73 L189.61 283.24 L189.28 283.75 L188.94 284.28 L188.61 284.82 L188.27 285.37 L187.93 285.93 L187.63 286.45 L187.32 286.98 L187.02 287.53 L186.71 288.09 L186.41 288.66 L186.11 289.24 L185.83 289.78 L185.56 290.33 L185.28 290.90 L185.01 291.48 L184.74 292.07 L184.46 292.68 L184.22 293.24 L183.98 293.80 L183.73 294.39 L183.49 294.99 L183.25 295.60 L183.01 296.23 L182.80 296.80 L182.58 297.38 L182.37 297.98 L182.16 298.59 L181.95 299.22 L181.74 299.86 L181.53 300.53 L181.35 301.11 L181.17 301.71 L180.98 302.32 L180.80 302.95 L180.62 303.60 L180.44 304.27 L180.26 304.95 L180.11 305.54 L179.96 306.14 L179.81 306.75 L179.66 307.38 L179.51 308.03 L179.37 308.69 L179.22 309.37 L179.07 310.07 L178.92 310.78 L178.77 311.52 L178.65 312.12 L178.53 312.74 L178.41 313.37 L178.29 314.02 L178.18 314.68 L178.06 315.35 L177.94 316.05 L177.82 316.76 L177.70 317.48 L177.59 318.23 L177.47 318.99 L177.35 319.78 L177.26 320.38 L177.17 320.99 L177.09 321.62 L177.00 322.26 L176.91 322.91 L176.82 323.57 L176.74 324.25 L176.65 324.94 L176.56 325.65 L176.47 326.37 L176.39 327.10 L176.30 327.85 L176.21 328.62 L176.13 329.41 L176.04 330.21 L175.95 331.03 L175.87 331.87 L175.77 332.73 L175.74 333.02" stroke="#e4621f" stroke-width="2.5"/>
<path d="M48.50 258.30 L49.12 258.31 L49.74 258.32 L50.35 258.33 L50.97 258.34 L51.59 258.35 L52.21 258.37 L52.83 258.38 L53.45 258.39 L54.06 258.40 L54.68 258.41 L55.30 258.43 L55.92 258.44 L56.54 258.46 L57.15 258.47 L57.77 258.49 L58.39 258.50 L59.01 258.52 L59.63 258.54 L60.25 258.55 L60.86 258.57 L61.48 258.59 L62.10 258.61 L62.72 258.63 L63.34 258.65 L63.96 258.68 L64.57 258.70 L65.19 258.72 L65.81 258.75 L66.43 258.77 L67.05 258.80 L67.66 258.83 L68.28 258.86 L68.90 258.89 L69.52 258.92 L70.14 258.95 L70.76 258.99 L71.37 259.02 L71.99 259.06 L72.61 259.10 L73.23 259.14 L73.85 259.18 L74.46 259.22 L75.08 259.27 L75.70 259.32 L76.32 259.37 L76.94 259.42 L77.56 259.47 L78.17 259.53 L78.79 259.59 L79.41 259.65 L80.03 259.72 L80.65 259.78 L81.26 259.85 L81.88 259.93 L82.50 260.00 L83.12 260.09 L83.74 260.17 L84.36 260.26 L84.97 260.35 L85.59 260.45 L86.21 260.55 L86.83 260.66 L87.45 260.77 L88.07 260.88 L88.68 261.01 L89.30 261.13 L89.89 261.26 L90.48 261.40 L91.06 261.54 L91.65 261.69 L92.24 261.84 L92.83 262.00 L93.41 262.17 L94.00 262.35 L94.59 262.54 L95.17 262.73 L95.76 262.94 L96.35 263.16 L96.94 263.39 L97.49 263.61 L98.05 263.85 L98.61 264.10 L99.16 264.36 L99.72 264.64 L100.27 264.93 L100.83 265.23 L101.36 265.54 L101.88 265.85 L102.41 266.19 L102.93 266.53 L103.43 266.88 L103.92 267.24 L104.42 267.62 L104.91 268.01 L105.37 268.40 L105.84 268.81 L106.30 269.23 L106.77 269.68 L107.20 270.11 L107.63 270.56 L108.06 271.03 L108.47 271.49 L108.87 271.97 L109.27 272.46 L109.64 272.94 L110.01 273.43 L110.38 273.95 L110.75 274.48 L111.09 274.99 L111.43 275.52 L111.77 276.06 L112.11 276.63 L112.42 277.16 L112.73 277.71 L113.04 278.28 L113.35 278.87 L113.63 279.42 L113.91 279.98 L114.18 280.56 L114.46 281.16 L114.71 281.71 L114.96 282.28 L115.20 282.86 L115.45 283.45 L115.70 284.07 L115.95 284.70 L116.16 285.27 L116.38 285.85 L116.60 286.44 L116.81 287.05 L117.03 287.68 L117.24 288.33 L117.46 288.98 L117.65 289.56 L117.83 290.16 L118.02 290.76 L118.20 291.38 L118.39 292.01 L118.57 292.66 L118.76 293.32 L118.94 294.00 L119.13 294.69 L119.28 295.28 L119.44 295.88 L119.59 296.49 L119.75 297.11 L119.90 297.74 L120.06 298.39 L120.21 299.05 L120.37 299.72 L120.52 300.41 L120.68 301.11 L120.83 301.82 L120.98 302.55 L121.11 303.14 L121.23 303.74 L121.36 304.35 L121.48 304.97 L121.60 305.60 L121.73 306.24 L121.85 306.89 L121.97 307.56 L122.10 308.23 L122.22 308.91 L122.34 309.60 L122.47 310.31 L122.59 311.03 L122.72 311.76 L122.84 312.50 L122.96 313.25 L123.09 314.01 L123.21 314.79 L123.33 315.58 L123.43 316.18 L123.52 316.79 L123.61 317.41 L123.70 318.04 L123.80 318.67 L123.89 319.31 L123.98 319.96 L124.08 320.61 L124.17 321.28 L124.26 321.95 L124.35 322.64 L124.45 323.33 L124.54 324.03 L124.63 324.74 L124.72 325.45 L124.82 326.18 L124.91 326.92 L125.00 327.66 L125.10 328.42 L125.19 329.19 L125.28 329.96 L125.37 330.75 L125.47 331.54 L125.56 332.35 L125.65 333.17 L125.65 333.17" stroke="#000" stroke-width="3.1"/>
<path d="M255.30 258.05 L254.68 258.06 L254.06 258.06 L253.45 258.07 L252.83 258.07 L252.21 258.08 L251.59 258.08 L250.97 258.09 L250.35 258.09 L249.74 258.10 L249.12 258.10 L248.50 258.11 L247.88 258.12 L247.26 258.13 L246.65 258.13 L246.03 258.14 L245.41 258.15 L244.79 258.16 L244.17 258.17 L243.55 258.18 L242.94 258.20 L242.32 258.21 L241.70 258.22 L241.08 258.24 L240.46 258.25 L239.84 258.27 L239.23 258.28 L238.61 258.30 L237.99 258.32 L237.37 258.34 L236.75 258.36 L236.14 258.39 L235.52 258.41 L234.90 258.44 L234.28 258.46 L233.66 258.49 L233.04 258.52 L232.43 258.56 L231.81 258.59 L231.19 258.63 L230.57 258.67 L229.95 258.71 L229.34 258.75 L228.72 258.80 L228.10 258.84 L227.48 258.89 L226.86 258.95 L226.24 259.01 L225.63 259.07 L225.01 259.13 L224.39 259.20 L223.77 259.27 L223.15 259.34 L222.54 259.42 L221.92 259.50 L221.30 259.59 L220.68 259.68 L220.06 259.78 L219.44 259.88 L218.83 259.99 L218.21 260.11 L217.59 260.23 L216.97 260.35 L216.38 260.48 L215.80 260.61 L215.21 260.75 L214.62 260.90 L214.03 261.05 L213.45 261.21 L212.86 261.38 L212.27 261.55 L211.69 261.74 L211.10 261.93 L210.51 262.13 L209.92 262.34 L209.34 262.56 L208.75 262.79 L208.19 263.02 L207.64 263.26 L207.08 263.51 L206.52 263.77 L205.97 264.04 L205.41 264.33 L204.85 264.62 L204.33 264.91 L203.80 265.21 L203.28 265.53 L202.75 265.86 L202.23 266.20 L201.70 266.55 L201.21 266.90 L200.71 267.25 L200.22 267.63 L199.72 268.01 L199.23 268.41 L198.77 268.80 L198.31 269.21 L197.85 269.63 L197.39 270.06 L196.93 270.51 L196.50 270.94 L196.07 271.39 L195.64 271.85 L195.22 272.33 L194.82 272.79 L194.42 273.26 L194.02 273.75 L193.62 274.26 L193.26 274.74 L192.89 275.24 L192.52 275.75 L192.15 276.28 L191.82 276.78 L191.48 277.29 L191.15 277.82 L190.81 278.36 L190.48 278.92 L190.17 279.45 L189.87 279.99 L189.56 280.54 L189.26 281.11 L188.95 281.70 L188.68 282.25 L188.40 282.81 L188.13 283.38 L187.86 283.97 L187.58 284.58 L187.34 285.13 L187.10 285.70 L186.86 286.28 L186.61 286.88 L186.37 287.50 L186.13 288.13 L185.92 288.70 L185.70 289.28 L185.49 289.87 L185.28 290.48 L185.07 291.11 L184.86 291.75 L184.65 292.41 L184.47 292.99 L184.28 293.58 L184.10 294.18 L183.92 294.80 L183.74 295.43 L183.56 296.08 L183.38 296.75 L183.20 297.43 L183.02 298.13 L182.87 298.72 L182.72 299.33 L182.57 299.95 L182.42 300.59 L182.27 301.24 L182.12 301.90 L181.98 302.58 L181.83 303.27 L181.68 303.98 L181.53 304.71 L181.41 305.30 L181.29 305.91 L181.17 306.53 L181.05 307.15 L180.93 307.79 L180.82 308.45 L180.70 309.11 L180.58 309.79 L180.46 310.49 L180.34 311.19 L180.23 311.92 L180.11 312.65 L179.99 313.41 L179.87 314.18 L179.75 314.96 L179.67 315.56 L179.58 316.17 L179.49 316.79 L179.40 317.42 L179.32 318.07 L179.23 318.72 L179.14 319.38 L179.05 320.06 L178.97 320.74 L178.88 321.44 L178.79 322.15 L178.70 322.87 L178.62 323.61 L178.53 324.36 L178.44 325.12 L178.36 325.90 L178.27 326.69 L178.18 327.49 L178.10 328.32 L178.01 329.15 L177.93 330.00 L177.84 330.87 L177.75 331.76 L177.69 332.36 L177.63 332.96 L177.60 333.27" stroke="#000" stroke-width="3.1"/>
</g>
<g clip-path="url(#clipd)" fill="none" stroke-linejoin="round">
<path d="M290.10 257.12 L290.72 257.13 L291.34 257.13 L291.95 257.14 L292.57 257.14 L293.19 257.15 L293.81 257.16 L294.43 257.16 L295.05 257.17 L295.66 257.18 L296.28 257.19 L296.90 257.20 L297.52 257.21 L298.14 257.22 L298.75 257.23 L299.37 257.24 L299.99 257.25 L300.61 257.26 L301.23 257.27 L301.85 257.29 L302.46 257.30 L303.08 257.31 L303.70 257.33 L304.32 257.34 L304.94 257.36 L305.56 257.38 L306.17 257.40 L306.79 257.42 L307.41 257.43 L308.03 257.46 L308.65 257.48 L309.26 257.50 L309.88 257.52 L310.50 257.55 L311.12 257.57 L311.74 257.60 L312.36 257.63 L312.97 257.66 L313.59 257.69 L314.21 257.73 L314.83 257.76 L315.45 257.80 L316.06 257.84 L316.68 257.88 L317.30 257.92 L317.92 257.96 L318.54 258.01 L319.16 258.06 L319.77 258.11 L320.39 258.16 L321.01 258.22 L321.63 258.27 L322.25 258.34 L322.86 258.40 L323.48 258.47 L324.10 258.54 L324.72 258.61 L325.34 258.69 L325.96 258.77 L326.57 258.86 L327.19 258.95 L327.81 259.05 L328.43 259.14 L329.05 259.25 L329.67 259.36 L330.28 259.47 L330.90 259.59 L331.52 259.72 L332.11 259.85 L332.69 259.98 L333.28 260.12 L333.87 260.26 L334.46 260.42 L335.04 260.58 L335.63 260.74 L336.22 260.92 L336.81 261.10 L337.39 261.30 L337.98 261.50 L338.57 261.71 L339.15 261.93 L339.74 262.17 L340.30 262.40 L340.85 262.64 L341.41 262.90 L341.97 263.16 L342.52 263.44 L343.08 263.73 L343.64 264.04 L344.16 264.34 L344.69 264.66 L345.21 264.99 L345.74 265.34 L346.23 265.68 L346.73 266.03 L347.22 266.40 L347.72 266.79 L348.20 267.20 L348.66 267.60 L349.12 268.02 L349.57 268.46 L350.00 268.88 L350.42 269.32 L350.85 269.78 L351.27 270.26 L351.67 270.72 L352.06 271.20 L352.46 271.70 L352.85 272.21 L353.21 272.71 L353.57 273.22 L353.94 273.75 L354.27 274.25 L354.60 274.77 L354.93 275.31 L355.26 275.87 L355.56 276.39 L355.86 276.93 L356.16 277.49 L356.46 278.07 L356.76 278.66 L357.03 279.21 L357.29 279.78 L357.56 280.37 L357.83 280.97 L358.07 281.52 L358.31 282.09 L358.54 282.67 L358.78 283.26 L359.02 283.88 L359.25 284.51 L359.46 285.08 L359.67 285.66 L359.87 286.26 L360.08 286.87 L360.29 287.49 L360.49 288.14 L360.70 288.79 L360.87 289.37 L361.05 289.97 L361.22 290.57 L361.40 291.19 L361.57 291.82 L361.75 292.47 L361.92 293.13 L362.09 293.81 L362.27 294.51 L362.41 295.10 L362.56 295.70 L362.70 296.32 L362.84 296.95 L362.99 297.59 L363.13 298.24 L363.28 298.91 L363.42 299.59 L363.56 300.29 L363.70 301.00 L363.85 301.72 L363.96 302.31 L364.07 302.91 L364.19 303.53 L364.30 304.15 L364.41 304.78 L364.52 305.43 L364.64 306.08 L364.75 306.75 L364.86 307.43 L364.97 308.12 L365.08 308.83 L365.20 309.55 L365.31 310.28 L365.42 311.02 L365.53 311.78 L365.64 312.55 L365.75 313.34 L365.83 313.94 L365.91 314.55 L366.00 315.17 L366.08 315.80 L366.16 316.43 L366.24 317.08 L366.32 317.73 L366.41 318.40 L366.49 319.07 L366.57 319.75 L366.65 320.45 L366.73 321.15 L366.81 321.87 L366.89 322.60 L366.97 323.33 L367.05 324.08 L367.13 324.84 L367.21 325.62 L367.29 326.40 L367.37 327.20 L367.45 328.01 L367.53 328.83 L367.61 329.67 L367.68 330.52 L367.76 331.38 L367.85 332.25 L367.94 333.12 L367.94 333.12" stroke="#e4621f" stroke-width="2.5"/>
<path d="M494.20 257.10 L493.58 257.10 L492.96 257.11 L492.35 257.11 L491.73 257.12 L491.11 257.12 L490.49 257.13 L489.87 257.14 L489.25 257.14 L488.64 257.15 L488.02 257.16 L487.40 257.17 L486.78 257.17 L486.16 257.18 L485.55 257.19 L484.93 257.20 L484.31 257.21 L483.69 257.23 L483.07 257.24 L482.45 257.25 L481.84 257.26 L481.22 257.28 L480.60 257.29 L479.98 257.30 L479.36 257.32 L478.74 257.34 L478.13 257.35 L477.51 257.37 L476.89 257.39 L476.27 257.41 L475.65 257.43 L475.04 257.45 L474.42 257.48 L473.80 257.50 L473.18 257.53 L472.56 257.55 L471.94 257.58 L471.33 257.61 L470.71 257.64 L470.09 257.68 L469.47 257.71 L468.85 257.75 L468.24 257.78 L467.62 257.82 L467.00 257.86 L466.38 257.91 L465.76 257.95 L465.14 258.00 L464.53 258.05 L463.91 258.11 L463.29 258.16 L462.67 258.22 L462.05 258.28 L461.44 258.35 L460.82 258.41 L460.20 258.48 L459.58 258.56 L458.96 258.64 L458.34 258.72 L457.73 258.80 L457.11 258.89 L456.49 258.99 L455.87 259.09 L455.25 259.19 L454.63 259.30 L454.02 259.41 L453.40 259.53 L452.78 259.66 L452.19 259.78 L451.61 259.91 L451.02 260.05 L450.43 260.19 L449.84 260.34 L449.26 260.50 L448.67 260.66 L448.08 260.84 L447.49 261.02 L446.91 261.20 L446.32 261.40 L445.73 261.61 L445.15 261.82 L444.56 262.05 L443.97 262.29 L443.41 262.52 L442.86 262.77 L442.30 263.03 L441.75 263.29 L441.19 263.58 L440.63 263.87 L440.11 264.16 L439.58 264.46 L439.06 264.78 L438.53 265.11 L438.01 265.45 L437.48 265.81 L436.99 266.17 L436.49 266.54 L436.00 266.93 L435.51 267.34 L435.05 267.73 L434.59 268.15 L434.13 268.58 L433.70 269.01 L433.28 269.44 L432.85 269.90 L432.42 270.37 L432.03 270.83 L431.63 271.31 L431.24 271.80 L430.84 272.31 L430.48 272.81 L430.11 273.32 L429.75 273.85 L429.41 274.35 L429.08 274.87 L428.75 275.41 L428.41 275.97 L428.11 276.49 L427.81 277.03 L427.51 277.59 L427.20 278.17 L426.93 278.71 L426.66 279.27 L426.39 279.84 L426.12 280.43 L425.85 281.04 L425.61 281.60 L425.37 282.18 L425.13 282.77 L424.89 283.39 L424.65 284.02 L424.44 284.58 L424.23 285.16 L424.02 285.76 L423.81 286.38 L423.60 287.01 L423.40 287.66 L423.19 288.33 L423.01 288.92 L422.83 289.52 L422.65 290.14 L422.48 290.78 L422.30 291.43 L422.12 292.09 L421.94 292.78 L421.80 293.36 L421.65 293.96 L421.50 294.57 L421.36 295.20 L421.21 295.84 L421.06 296.49 L420.92 297.16 L420.77 297.85 L420.62 298.55 L420.48 299.27 L420.33 300.00 L420.22 300.60 L420.10 301.22 L419.98 301.84 L419.87 302.48 L419.75 303.13 L419.64 303.79 L419.52 304.47 L419.41 305.16 L419.29 305.87 L419.18 306.59 L419.06 307.32 L418.95 308.07 L418.84 308.84 L418.72 309.62 L418.64 310.22 L418.55 310.83 L418.47 311.45 L418.38 312.08 L418.30 312.71 L418.21 313.36 L418.13 314.02 L418.04 314.70 L417.96 315.38 L417.87 316.07 L417.79 316.78 L417.71 317.50 L417.62 318.23 L417.54 318.98 L417.46 319.73 L417.37 320.51 L417.29 321.29 L417.21 322.09 L417.12 322.90 L417.04 323.73 L416.96 324.58 L416.88 325.44 L416.79 326.31 L416.71 327.20 L416.66 327.81 L416.60 328.42 L416.55 329.04 L416.50 329.67 L416.44 330.30 L416.39 330.95 L416.33 331.60 L416.27 332.25 L416.21 332.90 L416.18 333.24" stroke="#e4621f" stroke-width="2.5"/>
<path d="M288.80 258.12 L289.42 258.13 L290.04 258.13 L290.65 258.14 L291.27 258.14 L291.89 258.15 L292.51 258.16 L293.13 258.16 L293.75 258.17 L294.36 258.18 L294.98 258.19 L295.60 258.20 L296.22 258.21 L296.84 258.22 L297.45 258.23 L298.07 258.24 L298.69 258.25 L299.31 258.26 L299.93 258.27 L300.55 258.29 L301.16 258.30 L301.78 258.31 L302.40 258.33 L303.02 258.34 L303.64 258.36 L304.26 258.38 L304.87 258.40 L305.49 258.42 L306.11 258.43 L306.73 258.46 L307.35 258.48 L307.96 258.50 L308.58 258.52 L309.20 258.55 L309.82 258.57 L310.44 258.60 L311.06 258.63 L311.67 258.66 L312.29 258.69 L312.91 258.73 L313.53 258.76 L314.15 258.80 L314.76 258.84 L315.38 258.88 L316.00 258.92 L316.62 258.96 L317.24 259.01 L317.86 259.06 L318.47 259.11 L319.09 259.16 L319.71 259.22 L320.33 259.27 L320.95 259.34 L321.56 259.40 L322.18 259.47 L322.80 259.54 L323.42 259.61 L324.04 259.69 L324.66 259.77 L325.27 259.86 L325.89 259.95 L326.51 260.05 L327.13 260.14 L327.75 260.25 L328.37 260.36 L328.98 260.47 L329.60 260.59 L330.22 260.72 L330.81 260.85 L331.39 260.98 L331.98 261.12 L332.57 261.26 L333.16 261.42 L333.74 261.58 L334.33 261.74 L334.92 261.92 L335.51 262.10 L336.09 262.30 L336.68 262.50 L337.27 262.71 L337.85 262.93 L338.44 263.17 L339.00 263.40 L339.55 263.64 L340.11 263.90 L340.67 264.16 L341.22 264.44 L341.78 264.73 L342.34 265.04 L342.86 265.34 L343.39 265.66 L343.91 265.99 L344.44 266.34 L344.93 266.68 L345.43 267.03 L345.92 267.40 L346.42 267.79 L346.91 268.19 L347.38 268.59 L347.84 269.00 L348.31 269.43 L348.74 269.85 L349.18 270.28 L349.61 270.74 L350.04 271.21 L350.45 271.66 L350.85 272.13 L351.25 272.62 L351.66 273.13 L352.03 273.61 L352.40 274.12 L352.77 274.64 L353.12 275.14 L353.46 275.65 L353.80 276.18 L354.14 276.73 L354.45 277.25 L354.76 277.78 L355.07 278.33 L355.38 278.89 L355.70 279.48 L355.98 280.02 L356.26 280.58 L356.54 281.16 L356.82 281.75 L357.10 282.36 L357.34 282.92 L357.59 283.49 L357.84 284.09 L358.09 284.69 L358.34 285.32 L358.56 285.88 L358.78 286.45 L359.00 287.04 L359.21 287.64 L359.43 288.26 L359.65 288.90 L359.87 289.55 L360.06 290.12 L360.24 290.71 L360.43 291.30 L360.62 291.92 L360.81 292.54 L360.99 293.18 L361.18 293.84 L361.37 294.51 L361.56 295.19 L361.71 295.78 L361.87 296.38 L362.03 296.98 L362.18 297.61 L362.34 298.24 L362.50 298.89 L362.65 299.54 L362.81 300.22 L362.97 300.91 L363.12 301.61 L363.28 302.33 L363.44 303.06 L363.56 303.66 L363.69 304.26 L363.81 304.88 L363.94 305.51 L364.06 306.15 L364.19 306.80 L364.31 307.47 L364.44 308.14 L364.57 308.83 L364.69 309.53 L364.82 310.24 L364.94 310.97 L365.07 311.71 L365.20 312.46 L365.32 313.23 L365.45 314.02 L365.54 314.61 L365.64 315.22 L365.73 315.83 L365.83 316.45 L365.92 317.09 L366.02 317.73 L366.11 318.38 L366.21 319.04 L366.30 319.71 L366.40 320.39 L366.49 321.08 L366.59 321.78 L366.68 322.49 L366.78 323.22 L366.87 323.95 L366.97 324.70 L367.06 325.45 L367.16 326.22 L367.25 327.00 L367.35 327.79 L367.44 328.60 L367.54 329.42 L367.63 330.25 L367.73 331.10 L367.82 331.96 L367.91 332.83 L367.94 333.12" stroke="#000" stroke-width="3.1"/>
<path d="M495.50 258.10 L494.88 258.10 L494.26 258.11 L493.65 258.11 L493.03 258.12 L492.41 258.12 L491.79 258.13 L491.17 258.14 L490.55 258.14 L489.94 258.15 L489.32 258.16 L488.70 258.17 L488.08 258.17 L487.46 258.18 L486.85 258.19 L486.23 258.20 L485.61 258.21 L484.99 258.23 L484.37 258.24 L483.75 258.25 L483.14 258.26 L482.52 258.28 L481.90 258.29 L481.28 258.30 L480.66 258.32 L480.04 258.34 L479.43 258.35 L478.81 258.37 L478.19 258.39 L477.57 258.41 L476.95 258.43 L476.34 258.45 L475.72 258.48 L475.10 258.50 L474.48 258.53 L473.86 258.55 L473.24 258.58 L472.63 258.61 L472.01 258.64 L471.39 258.68 L470.77 258.71 L470.15 258.75 L469.54 258.78 L468.92 258.82 L468.30 258.86 L467.68 258.91 L467.06 258.95 L466.44 259.00 L465.83 259.05 L465.21 259.11 L464.59 259.16 L463.97 259.22 L463.35 259.28 L462.74 259.35 L462.12 259.41 L461.50 259.48 L460.88 259.56 L460.26 259.64 L459.64 259.72 L459.03 259.80 L458.41 259.89 L457.79 259.99 L457.17 260.09 L456.55 260.19 L455.93 260.30 L455.32 260.41 L454.70 260.53 L454.08 260.66 L453.49 260.78 L452.91 260.91 L452.32 261.05 L451.73 261.19 L451.14 261.34 L450.56 261.50 L449.97 261.66 L449.38 261.84 L448.79 262.02 L448.21 262.20 L447.62 262.40 L447.03 262.61 L446.45 262.82 L445.86 263.05 L445.27 263.29 L444.71 263.52 L444.16 263.77 L443.60 264.03 L443.05 264.29 L442.49 264.58 L441.93 264.87 L441.41 265.16 L440.88 265.46 L440.36 265.78 L439.83 266.11 L439.31 266.45 L438.78 266.81 L438.29 267.17 L437.79 267.54 L437.30 267.92 L436.80 268.33 L436.33 268.72 L435.87 269.13 L435.40 269.56 L434.97 269.97 L434.54 270.40 L434.10 270.85 L433.67 271.32 L433.27 271.77 L432.86 272.24 L432.46 272.72 L432.06 273.23 L431.68 273.71 L431.31 274.22 L430.94 274.74 L430.60 275.23 L430.25 275.74 L429.91 276.27 L429.57 276.82 L429.26 277.34 L428.95 277.87 L428.64 278.43 L428.33 279.00 L428.02 279.59 L427.74 280.14 L427.46 280.70 L427.18 281.29 L426.90 281.89 L426.65 282.45 L426.40 283.01 L426.15 283.60 L425.90 284.21 L425.65 284.83 L425.43 285.39 L425.21 285.96 L425.00 286.56 L424.78 287.16 L424.56 287.79 L424.34 288.43 L424.12 289.09 L423.94 289.67 L423.75 290.27 L423.56 290.88 L423.37 291.51 L423.19 292.15 L423.00 292.81 L422.81 293.49 L422.62 294.19 L422.47 294.78 L422.31 295.39 L422.15 296.01 L422.00 296.65 L421.84 297.30 L421.68 297.96 L421.53 298.64 L421.37 299.34 L421.21 300.05 L421.06 300.78 L420.93 301.38 L420.81 301.99 L420.68 302.61 L420.55 303.25 L420.43 303.89 L420.30 304.55 L420.18 305.23 L420.05 305.91 L419.93 306.62 L419.80 307.33 L419.67 308.06 L419.55 308.81 L419.42 309.57 L419.30 310.35 L419.20 310.95 L419.11 311.55 L419.01 312.17 L418.92 312.79 L418.82 313.43 L418.73 314.08 L418.63 314.73 L418.54 315.40 L418.44 316.08 L418.35 316.78 L418.25 317.48 L418.16 318.20 L418.06 318.92 L417.97 319.67 L417.87 320.42 L417.78 321.19 L417.68 321.97 L417.59 322.77 L417.49 323.58 L417.40 324.40 L417.30 325.25 L417.21 326.10 L417.11 326.98 L417.02 327.87 L416.95 328.47 L416.89 329.08 L416.82 329.69 L416.76 330.32 L416.70 330.95 L416.63 331.60 L416.57 332.25 L416.51 332.90 L416.48 333.24" stroke="#000" stroke-width="3.1"/>
</g>
<rect x="49.5" y="4.5" width="205.0" height="147.0" fill="none" stroke="#8a8a8a" stroke-width="1.1"/>
<path d="M100.75 151.5 V149.0 M100.75 4.5 V7.0 M152.00 151.5 V149.0 M152.00 4.5 V7.0 M203.25 151.5 V149.0 M203.25 4.5 V7.0 M49.5 127.00 H52.0 M254.5 127.00 H252.0 M49.5 102.50 H52.0 M254.5 102.50 H252.0 M49.5 78.00 H52.0 M254.5 78.00 H252.0 M49.5 53.50 H52.0 M254.5 53.50 H252.0 M49.5 29.00 H52.0 M254.5 29.00 H252.0" stroke="#6a6a6a" stroke-width="1.1" fill="none"/>
<rect x="288.5" y="5.5" width="206.0" height="147.0" fill="none" stroke="#8a8a8a" stroke-width="1.1"/>
<path d="M340.00 152.5 V150.0 M340.00 5.5 V8.0 M391.50 152.5 V150.0 M391.50 5.5 V8.0 M443.00 152.5 V150.0 M443.00 5.5 V8.0 M288.5 128.00 H291.0 M494.5 128.00 H492.0 M288.5 103.50 H291.0 M494.5 103.50 H492.0 M288.5 79.00 H291.0 M494.5 79.00 H492.0 M288.5 54.50 H291.0 M494.5 54.50 H492.0 M288.5 30.00 H291.0 M494.5 30.00 H492.0" stroke="#6a6a6a" stroke-width="1.1" fill="none"/>
<rect x="48.5" y="184.5" width="206.0" height="147.0" fill="none" stroke="#8a8a8a" stroke-width="1.1"/>
<path d="M100.00 331.5 V329.0 M100.00 184.5 V187.0 M151.50 331.5 V329.0 M151.50 184.5 V187.0 M203.00 331.5 V329.0 M203.00 184.5 V187.0 M48.5 307.00 H51.0 M254.5 307.00 H252.0 M48.5 282.50 H51.0 M254.5 282.50 H252.0 M48.5 258.00 H51.0 M254.5 258.00 H252.0 M48.5 233.50 H51.0 M254.5 233.50 H252.0 M48.5 209.00 H51.0 M254.5 209.00 H252.0" stroke="#6a6a6a" stroke-width="1.1" fill="none"/>
<rect x="288.5" y="184.5" width="206.0" height="147.0" fill="none" stroke="#8a8a8a" stroke-width="1.1"/>
<path d="M340.00 331.5 V329.0 M340.00 184.5 V187.0 M391.50 331.5 V329.0 M391.50 184.5 V187.0 M443.00 331.5 V329.0 M443.00 184.5 V187.0 M288.5 307.00 H291.0 M494.5 307.00 H492.0 M288.5 282.50 H291.0 M494.5 282.50 H492.0 M288.5 258.00 H291.0 M494.5 258.00 H492.0 M288.5 233.50 H291.0 M494.5 233.50 H492.0 M288.5 209.00 H291.0 M494.5 209.00 H492.0" stroke="#6a6a6a" stroke-width="1.1" fill="none"/>
<text x="44.7" y="8.40" font-size="11" text-anchor="end" class="t">60</text>
<text x="44.9" y="32.90" font-size="11" text-anchor="end" class="t">40</text>
<text x="44.1" y="57.40" font-size="11" text-anchor="end" class="t">20</text>
<text x="42.7" y="81.90" font-size="11" text-anchor="end" class="t">0</text>
<text x="43.6" y="106.40" font-size="11" text-anchor="end" class="t">–20</text>
<text x="43.6" y="130.90" font-size="11" text-anchor="end" class="t">–40</text>
<text x="43.6" y="155.40" font-size="11" text-anchor="end" class="t">–60</text>
<text x="43.7" y="188.40" font-size="11" text-anchor="end" class="t">60</text>
<text x="43.7" y="212.90" font-size="11" text-anchor="end" class="t">40</text>
<text x="43.7" y="237.40" font-size="11" text-anchor="end" class="t">20</text>
<text x="42.6" y="261.90" font-size="11" text-anchor="end" class="t">0</text>
<text x="43.4" y="286.40" font-size="11" text-anchor="end" class="t">–20</text>
<text x="43.4" y="310.90" font-size="11" text-anchor="end" class="t">–40</text>
<text x="43.4" y="335.40" font-size="11" text-anchor="end" class="t">–60</text>
<text x="36.67" y="346" font-size="11" class="t">–<tspan>10</tspan></text>
<text x="91.68" y="346.2" font-size="11" class="t">–<tspan>5</tspan></text>
<text x="150.45" y="346" font-size="11" text-anchor="middle" class="t">0</text>
<text x="203.00" y="342.7" font-size="9.8" text-anchor="middle" class="t">5</text>
<text x="254.40" y="346" font-size="11" text-anchor="middle" class="t">10</text>
<text x="276.87" y="346" font-size="11" class="t">–<tspan>10</tspan></text>
<text x="329.93" y="346.2" font-size="11" class="t">–<tspan>5</tspan></text>
<text x="390.45" y="346" font-size="11" text-anchor="middle" class="t">0</text>
<text x="441.90" y="346.2" font-size="11" text-anchor="middle" class="t">5</text>
<text x="494.50" y="346" font-size="11" text-anchor="middle" class="t">10</text>
<text x="154.6" y="367.9" font-size="17.4" text-anchor="middle" class="t">r / bohr</text>
<text x="390.8" y="367.9" font-size="17.4" text-anchor="middle" class="t">r / bohr</text>
<text transform="translate(13.6 271) rotate(-90)" font-size="17.4" class="t">potential energy / kcal mol<tspan font-size="13" dy="-4">−1</tspan></text>
<text x="65.2" y="27.1" font-size="13.5" class="t">(a)</text>
<text x="304.2" y="28.8" font-size="13.5" class="t">(b)</text>
<text x="65.2" y="206.2" font-size="13.5" class="t">(c)</text>
<text x="307.8" y="206.0" font-size="13.5" class="t">(d)</text>
<line x1="58.7" y1="47.9" x2="81" y2="47.9" stroke="#e4621f" stroke-width="2"/>
<line x1="59.9" y1="64.1" x2="81.8" y2="64.1" stroke="#000" stroke-width="2.5"/>
<text x="85.8" y="51.2" font-size="12.4" class="t">PEWP-2</text>
<text x="85.8" y="67.6" font-size="12.52" class="t">MP2/aug-cc-pVTZ</text>
<line x1="190.60" y1="65.30" x2="232.56" y2="20.38" stroke="#444" stroke-width="0.85"/><path d="M238.70 13.80 L233.92 23.02 L229.83 19.20 Z" fill="#1a1a1a"/>
<line x1="214.5" y1="39.7" x2="201.0" y2="54.2" stroke="#222" stroke-width="1.25" stroke-linecap="butt"/>
<line x1="222.7" y1="40.2" x2="234.1" y2="51.8" stroke="#222" stroke-width="1.25" stroke-linecap="butt"/>
<text x="218.60" y="39.88" font-size="10.0" text-anchor="middle" fill="#222" stroke="#222" stroke-width="0.2">O</text>
<text x="198.60" y="60.30" font-size="9.5" text-anchor="middle" fill="#222" stroke="#222" stroke-width="0.2">H</text>
<text x="237.70" y="61.70" font-size="9.5" text-anchor="middle" fill="#222" stroke="#222" stroke-width="0.2">H</text>
<line x1="454.50" y1="65.80" x2="454.50" y2="18.40" stroke="#444" stroke-width="0.85"/><path d="M454.50 11.30 L457.15 19.40 L451.85 19.40 Z" fill="#1a1a1a"/>
<line x1="449.7" y1="42" x2="438.2" y2="51.7" stroke="#222" stroke-width="1.25" stroke-linecap="butt"/>
<line x1="459.4" y1="42" x2="471.7" y2="51.7" stroke="#222" stroke-width="1.25" stroke-linecap="butt"/>
<text x="454.60" y="41.68" font-size="10.0" text-anchor="middle" fill="#222" stroke="#222" stroke-width="0.2">O</text>
<text x="434.70" y="59.50" font-size="9.5" text-anchor="middle" fill="#222" stroke="#222" stroke-width="0.2">H</text>
<text x="475.60" y="59.50" font-size="9.5" text-anchor="middle" fill="#222" stroke="#222" stroke-width="0.2">H</text>
<line x1="171.70" y1="204.50" x2="230.50" y2="204.50" stroke="#555" stroke-width="0.85"/><path d="M238.30 204.50 L229.50 207.00 L229.50 202.00 Z" fill="#1a1a1a"/>
<line x1="197.6" y1="205.3" x2="186.5" y2="217.1" stroke="#222" stroke-width="1.25" stroke-linecap="butt"/>
<line x1="206.2" y1="205.3" x2="217.6" y2="217.1" stroke="#222" stroke-width="1.25" stroke-linecap="butt"/>
<text x="201.70" y="205.98" font-size="10.0" text-anchor="middle" fill="#222" stroke="#222" stroke-width="0.2">O</text>
<text x="182.60" y="225.10" font-size="9.5" text-anchor="middle" fill="#222" stroke="#222" stroke-width="0.2">H</text>
<text x="221.60" y="225.10" font-size="9.5" text-anchor="middle" fill="#222" stroke="#222" stroke-width="0.2">H</text>
<line x1="459.50" y1="246.70" x2="459.50" y2="201.70" stroke="#777" stroke-width="0.9"/><path d="M459.50 194.70 L462.40 202.70 L456.60 202.70 Z" fill="#1a1a1a"/>
<text x="453.70" y="226.84" font-size="9.6" text-anchor="middle" fill="#222" stroke="#222" stroke-width="0.2">O</text>
<path d="M460.69 220.76 V222.03 M462.86 219.87 V221.69 M465.04 218.98 V221.36 M467.21 218.09 V221.02 M469.39 217.21 V220.68 M471.56 216.32 V220.34 M473.74 215.43 V220.01 M475.91 214.54 V219.67" stroke="#000" stroke-width="1.15" fill="none"/>
<path d="M459.3 224.0 L475.8 230.3 L473.0 235.1 Z" fill="#0a0a0a"/>
<text x="482.40" y="219.92" font-size="9.0" text-anchor="middle" fill="#222" stroke="#222" stroke-width="0.2">H</text>
<text x="479.00" y="239.92" font-size="9.0" text-anchor="middle" fill="#222" stroke="#222" stroke-width="0.2">H</text>
</svg>
</body></html>
